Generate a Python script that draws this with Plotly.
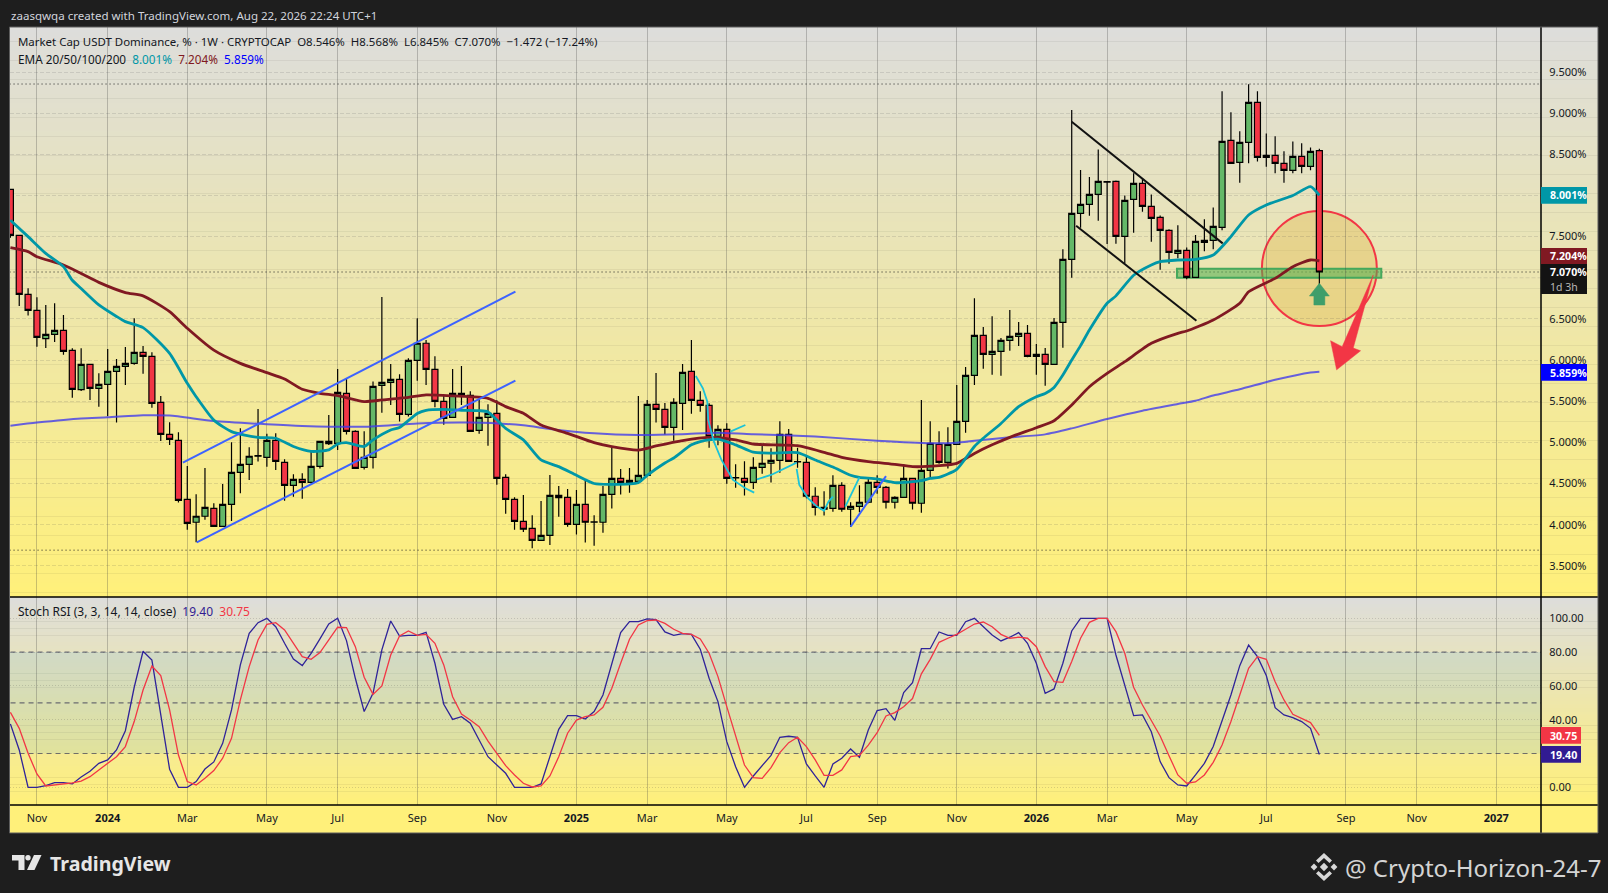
import pandas as pd
import plotly.graph_objects as go

FIRST_WEEK = "2023-10-16"
dates = pd.date_range(FIRST_WEEK, periods=149, freq="7D")

opens = [8.075,7.516,6.799,6.604,6.260,6.313,6.361,6.118,5.641,5.948,5.657,5.705,5.863,5.924,5.960,6.094,6.046,5.487,5.098,5.025,
4.308,4.029,4.102,4.199,3.980,4.247,4.636,4.733,4.831,4.818,5.025,4.758,4.478,4.551,4.515,4.709,5.013,4.988,5.596,5.134,
4.697,4.818,5.693,5.730,5.766,5.341,5.997,6.204,5.888,5.499,5.304,5.596,5.572,5.146,5.304,5.353,4.575,4.308,4.041,3.956,
3.810,3.871,4.357,4.332,4.004,4.247,4.029,4.029,4.369,4.563,4.515,4.527,4.600,5.462,5.402,5.183,5.474,5.863,5.511,5.450,
5.074,5.159,4.571,4.563,4.515,4.697,4.746,4.782,5.098,4.766,4.758,4.345,4.211,4.199,4.478,4.187,4.223,4.272,4.515,4.454,
4.272,4.332,4.563,4.260,4.660,4.976,4.758,4.976,5.255,5.814,6.300,6.069,6.106,6.240,6.288,6.325,6.045,6.069,5.948,6.458,
7.224,7.783,7.892,8.013,8.163,8.171,7.503,7.953,8.147,7.868,7.734,7.576,7.297,7.333,7.005,7.430,7.454,7.612,8.669,8.402,
8.645,9.131,8.463,8.487,8.390,8.305,8.475,8.354,8.546]
highs = [8.080,7.520,6.872,6.762,6.669,6.689,6.548,6.143,6.143,5.948,5.839,6.135,6.013,6.159,6.507,6.171,6.094,5.564,5.244,5.122,
4.713,4.369,4.689,4.260,4.494,5.001,5.171,4.940,5.406,5.106,5.110,4.794,4.612,4.624,4.891,5.013,5.333,5.892,5.770,5.146,
5.134,5.738,6.766,5.952,5.827,6.021,6.507,6.244,6.046,5.572,5.892,5.928,5.620,5.523,5.462,5.511,4.612,4.332,4.361,4.114,
4.288,4.604,4.470,4.434,4.422,4.539,4.114,4.470,4.952,4.677,4.689,5.564,5.515,5.843,5.479,5.535,5.952,6.244,5.620,5.474,
5.207,5.232,4.733,4.770,4.818,4.964,4.928,5.256,5.163,4.936,4.843,4.454,4.405,4.600,4.515,4.272,4.478,4.563,4.600,4.470,
4.345,4.733,4.563,5.515,5.256,5.134,5.183,5.697,5.915,6.750,6.401,6.531,6.268,6.608,6.462,6.426,6.195,6.146,6.511,7.345,
9.038,8.309,8.224,8.560,8.171,8.183,8.001,8.269,8.208,8.013,7.758,7.588,7.637,7.369,7.519,7.710,7.855,9.265,9.010,8.779,
9.350,9.265,8.754,8.718,8.536,8.657,8.633,8.584,8.568]
lows = [7.487,6.657,6.540,6.163,6.147,6.220,6.066,5.543,5.624,5.515,5.434,5.321,5.240,5.697,5.944,5.835,5.422,5.017,4.968,4.268,
3.939,3.786,4.061,3.980,3.972,4.045,4.381,4.543,4.766,4.705,4.665,4.292,4.340,4.316,4.503,4.681,4.968,4.908,5.094,4.685,
4.669,4.681,5.361,5.454,5.252,5.313,5.750,5.697,5.426,5.215,5.304,5.454,5.134,5.106,4.960,4.486,4.134,3.939,3.911,3.713,
3.810,3.753,4.097,3.976,3.879,3.782,3.745,3.903,4.195,4.365,4.389,4.502,4.596,5.240,5.094,5.021,5.150,5.349,5.373,4.936,
4.964,4.498,4.450,4.353,4.434,4.620,4.511,4.632,4.770,4.693,4.320,4.110,4.110,4.158,4.158,3.976,4.150,4.260,4.377,4.195,
4.195,4.332,4.183,4.146,4.571,4.741,4.681,4.976,5.118,5.697,5.895,5.822,5.810,6.114,6.171,6.033,5.822,5.689,5.948,6.150,
7.001,7.608,7.754,7.693,7.410,7.414,7.175,7.548,7.803,7.438,7.098,7.171,7.236,6.981,6.997,7.321,7.345,7.576,8.390,8.155,
8.390,8.414,8.350,8.269,8.155,8.269,8.269,8.305,6.845]
closes = [7.516,6.799,6.604,6.276,6.313,6.361,6.106,5.645,5.948,5.657,5.705,5.863,5.924,5.960,6.094,6.046,5.474,5.098,5.037,4.296,
4.016,4.102,4.211,3.980,4.247,4.636,4.733,4.831,4.839,5.025,4.770,4.478,4.551,4.515,4.709,5.013,4.984,5.608,5.134,4.685,
4.818,5.681,5.730,5.766,5.341,5.997,6.204,5.888,5.499,5.292,5.596,5.572,5.134,5.304,5.353,4.563,4.308,4.041,3.944,3.810,
3.871,4.357,4.328,4.004,4.247,4.029,4.033,4.369,4.563,4.515,4.539,4.600,5.462,5.402,5.183,5.487,5.851,5.511,5.450,5.074,
5.159,4.563,4.567,4.515,4.697,4.746,4.782,5.098,4.770,4.762,4.345,4.211,4.187,4.478,4.187,4.223,4.272,4.515,4.454,4.272,
4.332,4.563,4.260,4.660,4.988,4.758,4.976,5.256,5.814,6.300,6.069,6.106,6.240,6.288,6.325,6.045,6.069,5.948,6.458,7.224,
7.783,7.892,8.013,8.171,8.167,7.503,7.940,8.147,7.868,7.722,7.576,7.309,7.333,7.005,7.442,7.454,7.625,8.657,8.390,8.645,
9.131,8.463,8.487,8.390,8.305,8.475,8.354,8.536,7.070]

ema20_bars = [0,2,4,6,7,8,10,12,13,15,18,20,21,23,25,28,30,32,34,36,37,38,40,41,43,44,46,47,49,51,53,54,56,58,60,62,64,66,68,71,72,74,75,77,78,80,82,84,86,89,91,93,95,96,98,100,103,104,105,107,109,110,112,114,116,117,118,119,120,121,122,124,125,127,129,130,132,134,136,138,140,142,145,147,148]
ema20_vals = [7.70,7.50,7.296,7.135,6.97,6.87,6.67,6.53,6.467,6.394,6.08,5.717,5.555,5.27,5.13,5.06,5.05,4.95,4.89,4.908,4.98,4.997,4.95,5.03,5.15,5.18,5.35,5.39,5.40,5.39,5.385,5.37,5.17,5.03,4.786,4.705,4.60,4.50,4.49,4.51,4.60,4.75,4.81,4.97,5.01,5.04,4.97,4.88,4.87,4.875,4.786,4.70,4.60,4.575,4.555,4.51,4.535,4.563,4.575,4.672,4.95,5.05,5.23,5.433,5.555,5.595,5.668,5.818,6.0,6.175,6.365,6.69,6.78,7.03,7.155,7.195,7.216,7.224,7.276,7.50,7.762,7.884,8.0,8.107,8.001]
ema50_bars = [0,2,3,6,8,10,13,15,18,20,23,26,29,31,33,35,37,40,42,45,47,50,54,56,58,60,63,66,68,71,73,76,79,82,84,87,89,92,94,97,100,102,105,107,109,111,113,116,118,120,122,124,126,129,132,133,136,139,140,143,145,147,148]
ema50_vals = [7.365,7.317,7.256,7.155,7.053,6.944,6.82,6.78,6.588,6.386,6.12,5.96,5.847,5.77,5.645,5.596,5.567,5.495,5.515,5.547,5.576,5.564,5.535,5.434,5.353,5.211,5.11,4.997,4.948,4.907,4.956,5.021,5.06,5.03,4.98,4.968,4.96,4.879,4.818,4.766,4.733,4.705,4.717,4.745,4.866,4.97,5.061,5.178,5.263,5.454,5.676,5.838,5.98,6.203,6.325,6.353,6.487,6.69,6.83,6.993,7.135,7.216,7.204]
ema200_bars = [0,3,8,11,15,18,23,29,33,40,46,52,58,61,66,71,76,80,84,91,98,104,107,109,113,117,120,124,128,132,134,136,139,143,147,148]
ema200_vals = [5.203,5.24,5.29,5.304,5.329,5.325,5.26,5.22,5.20,5.19,5.23,5.24,5.207,5.163,5.11,5.09,5.10,5.118,5.10,5.07,5.02,4.99,4.996,5.02,5.061,5.097,5.17,5.284,5.385,5.466,5.506,5.57,5.645,5.76,5.85,5.859]

stoch_k = [37.5,22.1,0,0,1,2.8,2.8,2,6.1,9.5,14.2,16.2,22.1,33.5,59.2,80.5,75.3,41.8,10.7,0,
0,3.4,10.8,15,26,45.8,72.4,91.1,97.4,100,95,85.2,75.9,72,79.3,87.8,96.6,100,86.8,64.5,
44.8,55.6,81.3,98.4,89.5,89.9,89.9,91.7,73.4,49.1,40.2,41.8,37.9,28,18.1,13.2,8.3,0,0,0,
2,18.1,34.3,42.4,42.4,40.4,44.8,54.6,73.4,91.5,98,98,99.6,99.2,91.9,89.9,90.9,90.5,81.7,64.5,
50.7,27,12.2,0,6.7,12.8,18.9,29.6,30.2,29.6,13.8,6.7,0,13.8,17.2,22.7,17.8,33.9,45.4,46.5,
39.6,56,61.9,82,82,91.9,89.9,89.9,98,100,95,90.1,86.6,88.8,91.5,85.2,73.4,55.6,58.2,73.4,
92.5,100,100,100,100,78.3,59.6,42.4,42.8,32.9,15.2,5.7,1.4,0.8,7.3,14.2,24.1,38.9,54.6,72,
84.2,77.3,66.1,47.1,42.8,41.2,38.9,34.9,19.4]
stoch_d = [44.4,34.9,20.1,7.9,0.8,1.4,2.2,2.6,3.7,6.3,10.3,14.2,18.1,24.1,38.9,57.6,71.8,66.1,45.8,19.1,
3.4,1.4,5.3,9.9,17.2,29,51.7,71.4,87.2,96.4,97.4,93.1,85.2,77.3,75.7,79.7,87.2,94.7,94.5,83.2,
65.1,55,60,78.3,89.5,92.5,89.9,90.5,85.2,72.4,53.6,43.4,39.8,35.9,27.3,19.7,12.8,7.3,2.4,0.2,
0.8,6.7,18.1,32,39.8,41.8,42.8,47.3,58.6,73.4,87.6,96.1,98.6,99,97,93.5,91.1,90.5,87.8,79.3,
65.5,47.7,30,13.2,5.7,5.3,11.6,20.5,26.4,29.6,24.1,16.2,7.1,7.1,10.3,18.1,18.9,25,32.3,42.2,
44.2,47.7,52.5,67.1,75.7,85.8,88.2,90.5,93.5,96.6,97.8,95,90.5,88.2,88.8,88.2,83.2,71.4,62.5,62.1,
74.4,88.2,97.6,100,100,92.1,79.3,59.2,48.7,39.8,30.4,18.7,7.3,2.4,3.2,7.3,14.8,25,38.9,54.6,
70.4,77.3,75.7,62.5,51.7,43.2,40.8,38.3,30.75]

price_ticks = [9.5,9.0,8.5,8.0,7.5,6.5,6.0,5.5,5.0,4.5,4.0,3.5]
price_labels = ["9.500%","9.000%","8.500%","8.000%","7.500%","6.500%","6.000%","5.500%","5.000%","4.500%","4.000%","3.500%"]
stoch_ticks = [100,80,60,40,0]
stoch_labels = ["100.00","80.00","60.00","40.00","0.00"]
time_ticks = ["2023-11-06","2024-01-01","2024-03-04","2024-05-06","2024-07-01","2024-09-02","2024-11-04","2025-01-06","2025-03-03","2025-05-05","2025-07-07","2025-09-01","2025-11-03","2026-01-05","2026-03-02","2026-05-04","2026-07-06","2026-09-07","2026-11-02","2027-01-04"]
time_labels = ["Nov","<b>2024</b>","Mar","May","Jul","Sep","Nov","<b>2025</b>","Mar","May","Jul","Sep","Nov","<b>2026</b>","Mar","May","Jul","Sep","Nov","<b>2027</b>"]

W, H = 1608, 893
FONT = "Noto Sans"
INK = "#131722"
UP, DOWN = "#64b868", "#f23645"
TEAL, MAROON, BLUE = "#0097a7", "#801922", "#0000ff"
NAVY = "#311b92"


def fx(px):
    return px / W


def fy(px):
    return 1 - px / H


def bar_date(b):
    return (pd.Timestamp(FIRST_WEEK) + pd.Timedelta(days=7 * b)).isoformat()


def bars_to_dates(bs):
    return [bar_date(b) for b in bs]


def paper_path(points):
    return "M" + " L".join(f"{fx(x):.5f},{fy(y):.5f}" for x, y in points) + " Z"


shapes = []


# pane backgrounds: vertical gradient, price axis strip included
def gradient(top, bottom, steps):
    c0, c1 = (221, 221, 219), (255, 240, 122)
    for i in range(steps):
        t = (i + 0.5) / steps
        col = tuple(round(a + (b - a) * t) for a, b in zip(c0, c1))
        y0 = top + (bottom - top) * i / steps
        y1 = top + (bottom - top) * (i + 1) / steps + 0.6
        shapes.append(dict(type="rect", xref="paper", yref="paper", layer="below",
                           x0=fx(10), x1=fx(1598), y0=fy(y0), y1=fy(y1),
                           line_width=0, fillcolor=f"rgb{col}"))


gradient(27, 597, 120)
gradient(597, 805, 60)
shapes.append(dict(type="rect", xref="paper", yref="paper", layer="below", x0=fx(10), x1=fx(1598),
                   y0=fy(805), y1=fy(833), line_width=0, fillcolor="#fff07a"))
# stoch band
shapes.append(dict(type="rect", xref="x2", yref="y2", layer="below", x0=bar_date(-1), x1=bar_date(174),
                   y0=20, y1=80, line_width=0, fillcolor="rgba(33,150,243,0.10)"))
for lvl in (80, 50, 20):
    shapes.append(dict(type="line", xref="x2", yref="y2", layer="below", x0=bar_date(-1), x1=bar_date(174),
                       y0=lvl, y1=lvl, line=dict(color="rgba(70,70,90,0.75)", width=1.2, dash="5px,4px")))
# horizontal levels
shapes.append(dict(type="line", xref="x", yref="y", layer="below", x0=bar_date(-1), x1=bar_date(174),
                   y0=7.0, y1=7.0, line=dict(color="rgba(50,50,60,0.13)", width=1, dash="4px,2px")))
for lvl in (9.354, 7.07, 3.69):
    shapes.append(dict(type="line", xref="x", yref="y", layer="below", x0=bar_date(-1), x1=bar_date(174),
                       y0=lvl, y1=lvl, line=dict(color="#222", width=1, dash="1px,3px")))
# zone and circle
shapes.append(dict(type="circle", xref="x", yref="y", layer="below", x0=bar_date(141.5), x1=bar_date(154.5),
                   y0=6.413, y1=7.811, line=dict(color="#f23645", width=2), fillcolor="rgba(224,180,70,0.36)"))
shapes.append(dict(type="rect", xref="x", yref="y", layer="below", x0=bar_date(131.9), x1=bar_date(155.0),
                   y0=7.001, y1=7.11, line=dict(color="#45a85c", width=2), fillcolor="rgba(76,175,80,0.55)"))

# frame lines
for y in (597, 805):
    shapes.append(dict(type="line", xref="paper", yref="paper", x0=fx(10), x1=fx(1598), y0=fy(y), y1=fy(y),
                       line=dict(color="#000", width=1.5)))
shapes.append(dict(type="line", xref="paper", yref="paper", x0=fx(1541), x1=fx(1541), y0=fy(27), y1=fy(833),
                   line=dict(color="#000", width=1.5)))
shapes.append(dict(type="rect", xref="paper", yref="paper", x0=fx(9.5), x1=fx(1598), y0=fy(27), y1=fy(833),
                   line=dict(color="#5d5d5d", width=1), fillcolor="rgba(0,0,0,0)"))

# price labels
def tag(x1, y0, y1, color):
    shapes.append(dict(type="rect", xref="paper", yref="paper", x0=fx(1541), x1=fx(x1), y0=fy(y0), y1=fy(y1),
                       line_width=0, fillcolor=color))


tag(1587, 187, 203.7, TEAL)
tag(1587, 248, 264, MAROON)
tag(1587, 264, 294, "#131313")
tag(1587, 364, 380.7, BLUE)
tag(1581, 727, 743.7, DOWN)
tag(1581, 746, 762.7, NAVY)

# TradingView mark
LOGO = "#e6e6e6"
shapes.append(dict(type="path", xref="paper", yref="paper", line_width=0, fillcolor=LOGO,
                   path=paper_path([(12, 855), (24.5, 855), (24.5, 870), (18.5, 870), (18.5, 860.5), (12, 860.5)])))
shapes.append(dict(type="path", xref="paper", yref="paper", line_width=0, fillcolor=LOGO,
                   path=paper_path([(34, 855), (41.5, 855), (34.5, 870), (27, 870)])))
shapes.append(dict(type="circle", xref="paper", yref="paper", line_width=0, fillcolor=LOGO,
                   x0=fx(25.3), x1=fx(30.7), y0=fy(855), y1=fy(860.4)))
# Binance mark
cx, cy = 1324, 867
BN = "#d8d8d8"
for dx, dy, r in ((0, 0, 4.2), (-10, 0, 3.4), (10, 0, 3.4)):
    shapes.append(dict(type="path", xref="paper", yref="paper", line_width=0, fillcolor=BN,
                       path=paper_path([(cx + dx, cy + dy - r), (cx + dx + r, cy + dy), (cx + dx, cy + dy + r), (cx + dx - r, cy + dy)])))
for s in (-1, 1):
    shapes.append(dict(type="path", xref="paper", yref="paper", line_width=0, fillcolor=BN,
                       path=paper_path([(cx, cy + s * 14), (cx + 8, cy + s * 6.5), (cx + 5.5, cy + s * 4), (cx, cy + s * 9), (cx - 5.5, cy + s * 4), (cx - 8, cy + s * 6.5)])))

fig = go.Figure()
sample = dict(mode="lines", showlegend=False, hoverinfo="skip")


def line(xs, ys, color, width, xaxis="x", yaxis="y", opacity=1.0, smooth=False):
    style = dict(color=color, width=width)
    if smooth:
        style.update(shape="spline", smoothing=0.6)
    fig.add_trace(go.Scatter(x=xs, y=ys, line=style, opacity=opacity, xaxis=xaxis, yaxis=yaxis, **sample))


line(bars_to_dates(ema200_bars), ema200_vals, "#3f39ee", 2, opacity=0.78, smooth=True)
line(bars_to_dates(ema50_bars), ema50_vals, MAROON, 2.8, smooth=True)
line(bars_to_dates(ema20_bars), ema20_vals, TEAL, 2.8, smooth=True)

# hand-drawn lines
BLUE_LINE = "#3d63ff"
for bs, ps in (([19.5, 57.1], [4.753, 6.831]), ([21.07, 57.1], [3.786, 5.75]), ([95.0, 99.0], [3.976, 4.59])):
    line(bars_to_dates(bs), ps, BLUE_LINE, 2)
CYAN = "#1cc3d8"
for bs, ps in (
    ([77.5, 78.3, 78.8, 78.9, 79.5, 80.4, 81.7, 83.1, 84.1], [5.807, 5.657, 5.495, 5.272, 5.021, 4.786, 4.543, 4.442, 4.389]),
    ([81.4, 83.1], [5.130, 5.211]),
    ([84.4, 86.0, 88.9], [4.551, 4.604, 4.754]),
    ([88.9, 89.2, 90.2, 91.2, 92.0, 92.5, 93.0], [4.677, 4.482, 4.320, 4.219, 4.170, 4.280, 4.340]),
    ([94.4, 95.1, 95.7, 96.0], [4.219, 4.381, 4.503, 4.575]),
):
    line(bars_to_dates(bs), ps, CYAN, 1.8)

fig.add_trace(go.Candlestick(
    x=dates, open=opens, high=highs, low=lows, close=closes, whiskerwidth=0, showlegend=False, hoverinfo="skip",
    increasing=dict(fillcolor=UP, line=dict(color="#000", width=1.2)),
    decreasing=dict(fillcolor=DOWN, line=dict(color="#000", width=1.2)),
    xaxis="x", yaxis="y"))

for bs, ps in (([120.0, 137.07], [8.896, 7.418]), ([120.5, 134.1], [7.633, 6.478])):
    line(bars_to_dates(bs), ps, "#111", 2)

# arrows
up_b = [148, 149.13, 148.62, 148.62, 147.38, 147.38, 146.87, 148]
up_p = [6.933, 6.778, 6.778, 6.669, 6.669, 6.778, 6.778, 6.933]
fig.add_trace(go.Scatter(x=bars_to_dates(up_b), y=up_p, fill="toself", fillcolor="#3f9e6a", line=dict(color="#3f9e6a", width=0.5), **sample))
dn_b = [154.09, 151.83, 152.66, 149.95, 149.27, 150.58, 154.09]
dn_p = [7.033, 6.146, 6.113, 5.881, 6.235, 6.162, 7.033]
fig.add_trace(go.Scatter(x=bars_to_dates(dn_b), y=dn_p, fill="toself", fillcolor=DOWN, line=dict(color=DOWN, width=0.5), **sample))

line(dates, stoch_k, "#2f2399", 1.3, "x2", "y2")
line(dates, stoch_d, DOWN, 1.3, "x2", "y2")


def text(x, y, s, size=12, color=INK, anchor="left"):
    return dict(xref="paper", yref="paper", x=fx(x), y=fy(y), text=s, showarrow=False, xanchor=anchor, yanchor="middle",
                font=dict(family=FONT, size=size, color=color), align="left", borderpad=0)


annotations = [
    text(10, 15.5, "zaasqwqa created with TradingView.com, Aug 22, 2026 22:24 UTC+1", 11.55, "#d1d4dc"),
    text(17, 41.7, "Market Cap USDT Dominance, % · 1W · CRYPTOCAP&#160;&#160;O8.546%&#160;&#160;H8.568%&#160;&#160;L6.845%&#160;&#160;C7.070%&#160;&#160;−1.472 (−17.24%)", 11.45),
    text(17, 58.7, f'EMA 20/50/100/200&#160;&#160;<span style="color:{TEAL}">8.001%</span>&#160;&#160;<span style="color:{MAROON}">7.204%</span>&#160;&#160;<span style="color:{BLUE}">5.859%</span>', 11.75),
    text(17, 611.7, f'Stoch RSI (3, 3, 14, 14, close)&#160;&#160;<span style="color:{NAVY}">19.40</span>&#160;&#160;<span style="color:{DOWN}">30.75</span>', 12),
    text(1549, 195.5, "<b>8.001%</b>", 10.6, "#ffffff"),
    text(1549, 256, "<b>7.204%</b>", 10.6, "#ffffff"),
    text(1549, 271.5, "<b>7.070%</b>", 10.6, "#ffffff"),
    text(1549, 286.5, "1d 3h", 10.5, "#b8b8b8"),
    text(1549, 372.5, "<b>5.859%</b>", 10.6, "#ffffff"),
    text(1549, 735.5, "<b>30.75</b>", 10.6, "#ffffff"),
    text(1549, 754.5, "<b>19.40</b>", 10.6, "#ffffff"),
    text(49, 863, "<b>TradingView</b>", 19.6, "#e6e6e6"),
    text(1344, 867, "@ Crypto-Horizon-24-7", 24, "#d4d4d4"),
]

x_range = [bar_date(-0.045), bar_date(173.06)]
common_x = dict(type="date", range=x_range, rangeslider=dict(visible=False), showline=False, zeroline=False,
                showgrid=True, gridcolor="rgba(60,60,60,0.28)", gridwidth=1, tickvals=time_ticks, ticktext=time_labels)
fig.update_layout(
    width=W, height=H, autosize=False,
    margin=dict(l=0, r=0, t=0, b=0),
    paper_bgcolor="#1e1e1e", plot_bgcolor="rgba(0,0,0,0)",
    font=dict(family=FONT, size=11, color=INK),
    boxgap=0.3, boxgroupgap=0.03,
    showlegend=False,
    xaxis=dict(domain=[fx(10), fx(1541)], anchor="y", showticklabels=False, ticks="", **common_x),
    xaxis2=dict(domain=[fx(10), fx(1541)], anchor="y2", matches="x", showticklabels=True, ticks="outside", ticklen=3,
                tickcolor="rgba(0,0,0,0)", tickfont=dict(family=FONT, size=11, color=INK), **common_x),
    yaxis=dict(domain=[fy(597), fy(27)], anchor="x", side="right", range=[3.121, 10.047], tickvals=price_ticks,
               ticktext=price_labels, showgrid=True, gridcolor="rgba(50,50,60,0.13)", griddash="4px,2px", zeroline=False,
               ticks="outside", ticklen=5, tickcolor="rgba(0,0,0,0)", tickfont=dict(family=FONT, size=11, color=INK)),
    yaxis2=dict(domain=[fy(805), fy(597)], anchor="x2", side="right", range=[-10.47, 112.6], tickvals=stoch_ticks,
                ticktext=stoch_labels, showgrid=True, gridcolor="rgba(50,50,60,0.18)", griddash="1px,2px", zeroline=False,
                ticks="outside", ticklen=5, tickcolor="rgba(0,0,0,0)", tickfont=dict(family=FONT, size=11, color=INK)),
    shapes=shapes,
    annotations=annotations,
)

fig.write_html("out.html", config=dict(displayModeBar=False),
               post_script="document.body.style.margin='0';document.documentElement.style.background='#1e1e1e';")
